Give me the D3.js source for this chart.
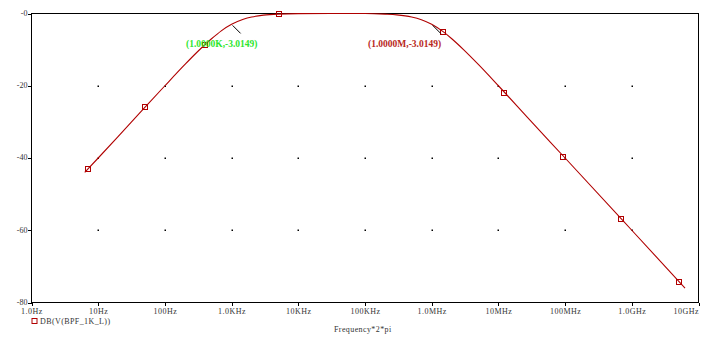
<!DOCTYPE html>
<html><head><meta charset="utf-8">
<script src="https://cdn.jsdelivr.net/npm/d3@7"></script>
<style>
html,body{margin:0;padding:0;background:#fff;}
svg{display:block;}
text{font-family:"Liberation Serif",serif;}
</style></head>
<body>
<svg id="chart" width="708" height="339"></svg>
<script>
// ---- data (x = Frequency*2*pi, y = dB) ----
const curveX = [6.28, 10, 20, 50, 100, 200, 300, 500, 700, 1000, 1500, 2000, 3000, 5000, 10000, 30000, 100000, 200000, 300000, 500000, 700000, 1000000, 1500000, 2000000, 3000000, 5000000, 10000000, 30000000, 100000000, 1000000000, 6280000000];
const curveDB = [-44.0, -40.0, -34.0, -26.0, -20.0, -14.1, -10.8, -7.0, -4.8, -3.0, -1.6, -0.97, -0.46, -0.17, -0.04, 0, 0, -0.17, -0.37, -0.97, -1.73, -3.0, -5.1, -7.0, -10.0, -14.1, -20.0, -29.6, -40.0, -60.0, -76.0];
const markerX = [7.0, 50.8, 395, 5190, 1480000, 12100000, 93000000, 690000000, 5100000000];
const markerDB = [-43.0, -25.9, -8.6, -0.2, -5.2, -22.0, -39.6, -56.8, -74.2];
const xTickVals = [1, 10, 100, 1e3, 1e4, 1e5, 1e6, 1e7, 1e8, 1e9, 1e10];
const xTickLabels = ["1.0Hz","10Hz","100Hz","1.0KHz","10KHz","100KHz","1.0MHz","10MHz","100MHz","1.0GHz","10GHz"];
const yTickVals = [-80, -60, -40, -20, 0];
const yTickLabels = ["-80", "-60", "-40", "-20", "-0"];
const cursorX = [1000, 1000000];
const cursorDB = [-3.0149, -3.0149];
const cursorLabels = ["(1.0000K,-3.0149)", "(1.0000M,-3.0149)"];
const seriesName = "DB(V(BPF_1K_L))";
const xTitle = "Frequency*2*pi";

const svg = d3.select("#chart");
const L = 31.5, R = 698.5, T = 13.5, B = 302.5;
const x = d3.scaleLog().domain([1, 1e10]).range([L, R]);
const y = d3.scaleLinear().domain([-80, 0]).range([B, T]);
const red = "#b00000";

// grid dots
const g = svg.append("g");
xTickVals.slice(1, -1).forEach(xv => {
  yTickVals.slice(1, -1).forEach(yv => {
    g.append("rect").attr("x", Math.round(x(xv)) - 0.5).attr("y", Math.round(y(yv)) - 0.5)
      .attr("width", 1.5).attr("height", 1.5).attr("fill", "#000");
  });
});

// frame
svg.append("rect").attr("x", L).attr("y", T).attr("width", R - L).attr("height", B - T)
  .attr("fill", "none").attr("stroke", "#000").attr("stroke-width", 1.2).attr("shape-rendering", "crispEdges");

// axes
const xAxis = d3.axisBottom(x).tickValues(xTickVals).tickSize(3).tickFormat((d, i) => xTickLabels[i]);
const gx = svg.append("g").attr("transform", `translate(0,${B})`).call(xAxis);
gx.select(".domain").remove();
gx.selectAll("line").attr("stroke", "#000").attr("shape-rendering", "crispEdges");
gx.selectAll("text").attr("font-family", "Liberation Serif").attr("font-size", 8).attr("fill", "#333")
  .attr("dy", 0).attr("y", 11.5).attr("letter-spacing", 0.5);
gx.selectAll("text").filter((d, i) => i === xTickVals.length - 1).attr("text-anchor", "end");

const yAxis = d3.axisLeft(y).tickValues(yTickVals).tickSize(4).tickFormat((d, i) => yTickLabels[i]);
const gy = svg.append("g").attr("transform", `translate(${L},0)`).call(yAxis);
gy.select(".domain").remove();
gy.selectAll("line").attr("stroke", "#000").attr("shape-rendering", "crispEdges");
gy.selectAll("text").attr("font-family", "Liberation Serif").attr("font-size", 8).attr("fill", "#333")
  .attr("x", -4).attr("dy", "0.22em");

// curve
const pts = curveX.map((v, i) => [v, curveDB[i]]);
const line = d3.line().x(d => x(d[0])).y(d => y(d[1])).curve(d3.curveMonotoneX);
svg.append("path").attr("d", line(pts)).attr("fill", "none").attr("stroke", red).attr("stroke-width", 1.1);

// markers
svg.selectAll("rect.mk").data(markerX.map((v, i) => [v, markerDB[i]])).enter().append("rect")
  .attr("class", "mk")
  .attr("x", d => Math.round(x(d[0])) - 2.5).attr("y", d => Math.round(y(d[1])) - 2.5)
  .attr("width", 5).attr("height", 5).attr("fill", "none").attr("stroke", red).attr("stroke-width", 1);

// cursors
const labelColors = ["#2ee62e", "#b8281c"];
const labelX = [186, 368];
cursorX.forEach((cx, i) => {
  const px = x(cx), py = y(cursorDB[i]);
  svg.append("line").attr("x1", px + 1).attr("y1", py + 1).attr("x2", px + 9).attr("y2", py + 9)
    .attr("stroke", "#000").attr("stroke-width", 1);
  svg.append("text").attr("x", labelX[i]).attr("y", 47).text(cursorLabels[i])
    .attr("font-family", "Liberation Sans, Arial, sans-serif").attr("font-weight", "bold")
    .attr("font-size", 9.5).attr("fill", labelColors[i]);
});

// legend
svg.append("rect").attr("x", 32).attr("y", 318.5).attr("width", 5).attr("height", 5)
  .attr("fill", "none").attr("stroke", red).attr("stroke-width", 1);
svg.append("text").attr("x", 40).attr("y", 323.5).text(seriesName)
  .attr("font-size", 8).attr("fill", "#333").attr("letter-spacing", 0.4);

// x title
svg.append("text").attr("x", 334).attr("y", 331.5).text(xTitle)
  .attr("font-size", 8).attr("fill", "#333").attr("letter-spacing", 0.4);
</script>
</body></html>
